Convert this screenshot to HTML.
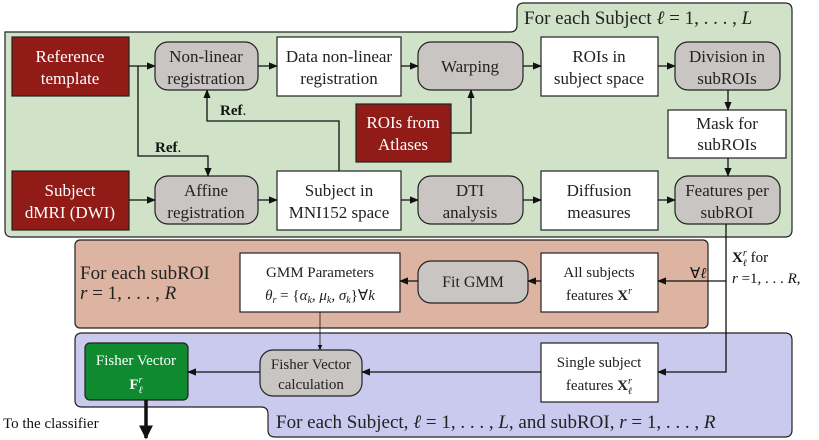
<!DOCTYPE html>
<html><head><meta charset="utf-8"><style>
html,body{margin:0;padding:0;background:#fff;}
svg{display:block;}
svg text{font-family:"Liberation Serif","Times New Roman",serif;}
</style></head><body>
<svg width="819" height="440" viewBox="0 0 819 440" xmlns="http://www.w3.org/2000/svg" font-family="Liberation Serif, serif">
<defs>
<marker id="a" viewBox="0 0 10 10" refX="9" refY="5" markerWidth="7" markerHeight="7" orient="auto"><path d="M0,1 L10,5 L0,9 Z" fill="#111"/></marker>
<marker id="b" viewBox="0 0 10 10" refX="9" refY="5" markerWidth="4" markerHeight="4" orient="auto"><path d="M0,0 L10,5 L0,10 Z" fill="#111"/></marker>
</defs>
<path d="M5,32 L510,32 Q517,32 517,25 L517,10 Q517,3 524,3 L785,3 Q792,3 792,10 L792,230 Q792,237 785,237 L12,237 Q5,237 5,230 Z" fill="#d0e2c8" stroke="#222" stroke-width="1.2"/>
<text x="524" y="24" font-size="19" fill="#222">For each Subject <tspan font-style="italic">ℓ</tspan> = 1, . . . , <tspan font-style="italic">L</tspan></text>
<rect x="75" y="240" width="633" height="88" rx="5" fill="#ddb4a2" stroke="#222" stroke-width="1.2"/>
<text x="80" y="279" font-size="19" fill="#222">For each subROI</text>
<text x="80" y="299" font-size="19" fill="#222"><tspan font-style="italic">r</tspan> = 1, . . . , <tspan font-style="italic">R</tspan></text>
<path d="M82,333 L785,333 Q792,333 792,340 L792,430 Q792,437 785,437 L275,437 Q268,437 268,430 L268,414 Q268,407 261,407 L82,407 Q75,407 75,400 L75,340 Q75,333 82,333 Z" fill="#cacaee" stroke="#222" stroke-width="1.2"/>
<text x="276" y="428" font-size="19" fill="#222">For each Subject, <tspan font-style="italic">ℓ</tspan> = 1, . . . , <tspan font-style="italic">L</tspan>, and subROI, <tspan font-style="italic">r</tspan> = 1, . . . , <tspan font-style="italic">R</tspan></text>

<g stroke="#222" stroke-width="1.2">
<rect x="12" y="37" width="117" height="59" fill="#911c17"/>
<rect x="155" y="42" width="103" height="48" rx="13" fill="#c9c5c3"/>
<rect x="277" y="37" width="124" height="59" fill="#fff"/>
<rect x="418" y="42" width="105" height="48" rx="13" fill="#c9c5c3"/>
<rect x="541" y="37" width="117" height="59" fill="#fff"/>
<rect x="675" y="42" width="105" height="48" rx="13" fill="#c9c5c3"/>
<rect x="356" y="104" width="95" height="58" fill="#911c17"/>
<rect x="668" y="110" width="118" height="48" fill="#fff"/>
<rect x="12" y="171" width="117" height="59" fill="#911c17"/>
<rect x="155" y="176" width="103" height="48" rx="13" fill="#c9c5c3"/>
<rect x="277" y="171" width="124" height="59" fill="#fff"/>
<rect x="418" y="176" width="105" height="48" rx="13" fill="#c9c5c3"/>
<rect x="541" y="171" width="117" height="59" fill="#fff"/>
<rect x="675" y="176" width="105" height="48" rx="13" fill="#c9c5c3"/>
<rect x="240" y="253" width="160" height="59" fill="#fff"/>
<rect x="418" y="261" width="110" height="42" rx="13" fill="#c9c5c3"/>
<rect x="541" y="253" width="117" height="59" fill="#fff"/>
<rect x="85" y="343" width="103" height="57" rx="5" fill="#0f8a2f"/>
<rect x="260" y="350" width="102" height="46" rx="13" fill="#c9c5c3"/>
<rect x="541" y="343" width="117" height="59" fill="#fff"/>
</g>

<g stroke="#111" stroke-width="1.3" fill="none" marker-end="url(#a)">
<line x1="129" y1="66" x2="155" y2="66"/>
<line x1="258" y1="66" x2="277" y2="66"/>
<line x1="401" y1="66" x2="418" y2="66"/>
<line x1="523" y1="66" x2="541" y2="66"/>
<line x1="658" y1="66" x2="675" y2="66"/>
<line x1="129" y1="200" x2="155" y2="200"/>
<line x1="258" y1="200" x2="277" y2="200"/>
<line x1="401" y1="200" x2="418" y2="200"/>
<line x1="523" y1="200" x2="541" y2="200"/>
<line x1="658" y1="200" x2="675" y2="200"/>
<line x1="728" y1="90" x2="728" y2="110"/>
<line x1="728" y1="158" x2="728" y2="176"/>
<polyline points="138,66 138,156 208,156 208,176"/>
<polyline points="339,171 339,121 207,121 207,90"/>
<polyline points="451,133 471,133 471,90"/>
<polyline points="726,224 726,281 658,281"/>
<polyline points="726,281 726,372 658,372"/>
<line x1="541" y1="281" x2="528" y2="281"/>
<line x1="418" y1="281" x2="400" y2="281"/>
<line x1="541" y1="372" x2="362" y2="372"/>
<line x1="260" y1="372" x2="188" y2="372"/>
</g>
<line x1="320" y1="312" x2="320" y2="350" stroke="#111" stroke-width="0.8" marker-end="url(#a)"/>
<line x1="146" y1="400" x2="146" y2="438" stroke="#111" stroke-width="3.5" marker-end="url(#b)"/>

<g font-size="17" text-anchor="middle" fill="#222">
<text x="70" y="62" fill="#fff">Reference</text><text x="70" y="84" fill="#fff">template</text>
<text x="206" y="62">Non-linear</text><text x="206" y="84">registration</text>
<text x="339" y="62">Data non-linear</text><text x="339" y="84">registration</text>
<text x="470" y="72">Warping</text>
<text x="599" y="62">ROIs in</text><text x="599" y="84">subject space</text>
<text x="727" y="62">Division in</text><text x="727" y="84">subROIs</text>
<text x="403" y="128" fill="#fff">ROIs from</text><text x="403" y="150" fill="#fff">Atlases</text>
<text x="727" y="129">Mask for</text><text x="727" y="150">subROIs</text>
<text x="70" y="196" fill="#fff">Subject</text><text x="70" y="218" fill="#fff">dMRI (DWI)</text>
<text x="206" y="196">Affine</text><text x="206" y="218">registration</text>
<text x="339" y="196">Subject in</text><text x="339" y="218">MNI152 space</text>
<text x="470" y="196">DTI</text><text x="470" y="218">analysis</text>
<text x="599" y="196">Diffusion</text><text x="599" y="218">measures</text>
<text x="727" y="196">Features per</text><text x="727" y="218">subROI</text>
<text x="320" y="277" font-size="15">GMM Parameters</text>
<text x="320" y="300" font-size="15"><tspan font-style="italic">θ<tspan font-size="10" dy="3">r</tspan></tspan><tspan dy="-3"> = {</tspan><tspan font-style="italic">α<tspan font-size="10" dy="3">k</tspan><tspan dy="-3">, μ</tspan><tspan font-size="10" dy="3">k</tspan><tspan dy="-3">, σ</tspan><tspan font-size="10" dy="3">k</tspan></tspan><tspan dy="-3">}∀</tspan><tspan font-style="italic">k</tspan></text>
<text x="473" y="287" font-size="16">Fit GMM</text>
<text x="599" y="277" font-size="15">All subjects</text>
<text x="599" y="300" font-size="15">features <tspan font-weight="bold">X</tspan><tspan font-size="10" dy="-6" font-style="italic">r</tspan></text>
<text x="136" y="365" font-size="15" fill="#fff">Fisher Vector</text>
<text x="136" y="389" font-size="15" fill="#fff" font-weight="bold">F<tspan font-size="10" dy="-6" font-style="italic" font-weight="normal">r</tspan><tspan font-size="10" dy="10" dx="-4" font-style="italic" font-weight="normal">ℓ</tspan></text>
<text x="311" y="369" font-size="15">Fisher Vector</text>
<text x="311" y="389" font-size="15">calculation</text>
<text x="599" y="367" font-size="15">Single subject</text>
<text x="599" y="390" font-size="15">features <tspan font-weight="bold">X</tspan><tspan font-size="10" dy="-6" font-style="italic">r</tspan><tspan font-size="10" dy="10" dx="-4" font-style="italic">ℓ</tspan></text>
</g>
<g font-size="15" fill="#111">
<text x="155" y="152" font-weight="bold">Ref<tspan font-weight="normal">.</tspan></text>
<text x="220" y="115" font-weight="bold">Ref<tspan font-weight="normal">.</tspan></text>
<text x="690" y="278">∀<tspan font-style="italic">ℓ</tspan></text>
<text x="732" y="262"><tspan font-weight="bold">X</tspan><tspan font-size="10" dy="-6" font-style="italic">r</tspan><tspan font-size="10" dy="10" dx="-4" font-style="italic">ℓ</tspan><tspan dy="-4"> for</tspan></text>
<text x="732" y="283"><tspan font-style="italic">r</tspan> =1, . . . <tspan font-style="italic">R</tspan>,</text>
<text x="3" y="428">To the classifier</text>
</g>
</svg>
</body></html>
